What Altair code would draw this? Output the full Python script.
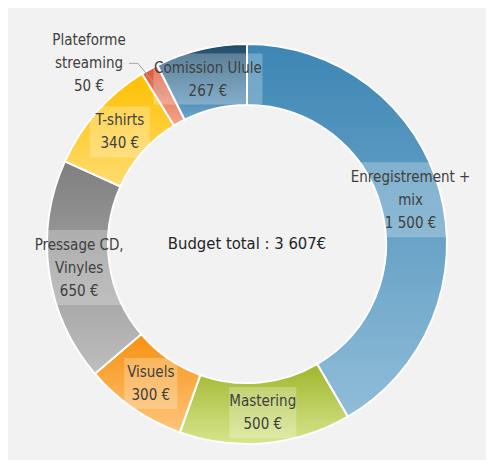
import altair as alt
import pandas as pd

categories = ['Enregistrement + mix', 'Mastering', 'Visuels', 'Pressage CD, Vinyles',
              'T-shirts', 'Plateforme streaming', 'Comission Ulule']
amounts = [1500, 500, 300, 650, 340, 50, 267]
label_lines = [
    ['Enregistrement +', 'mix', '1 500 €'],
    ['Mastering', '500 €'],
    ['Visuels', '300 €'],
    ['Pressage CD,', 'Vinyles', '650 €'],
    ['T-shirts', '340 €'],
    ['Plateforme', 'streaming', '50 €'],
    ['Comission Ulule', '267 €'],
]
top_colors = ['#3d86b4', '#9fb62c', '#f6900f', '#7f7f7f', '#fec000', '#de5232', '#1e4a68']
bottom_colors = ['#90bdd8', '#d8e58e', '#fec67c', '#bebebe', '#ffdc72', '#f3a88f', '#6aa6cf']

total = sum(amounts)
center_text = 'Budget total : ' + f'{total:,}'.replace(',', ' ') + '€'

W, H = 478, 432
R_IN, R_OUT = 139, 200
R_MID = (R_IN + R_OUT) / 2
LINE_H = 23
BG = '#f2f2f2'
FONT = 'Liberation Sans Narrow, DejaVu Sans Condensed, Arial Narrow, sans-serif'

df = pd.DataFrame({
    'cat': categories,
    'value': amounts,
    'order': list(range(len(categories))),
    'label': ['\n'.join(l) for l in label_lines],
    'nlines': [len(l) for l in label_lines],
    'nchars': [max(len(s) for s in l) for l in label_lines],
})

base = alt.Chart(df).transform_window(
    cum='sum(value)', sort=[alt.SortField('order')], frame=[None, 0]
).transform_calculate(
    start='datum.cum - datum.value',
    mid=f'(datum.cum - datum.value / 2) / {total} * 2 * PI',
    outside=f'datum.value / {total} < 0.03',
).transform_calculate(
    la='datum.outside ? datum.mid - 0.21 : datum.mid',
    lr=f'datum.outside ? 240 : {R_MID}',
    mx=f'{R_MID} * sin(datum.mid)',
    my=f'{R_MID} * cos(datum.mid)',
    bw='datum.nchars * 7 + 4',
    bh='datum.nlines * 24 + 3',
).transform_calculate(
    lx='datum.lr * sin(datum.la)',
    ly='datum.lr * cos(datum.la)',
).transform_calculate(
    ty=f'datum.ly + (datum.nlines - 1) * {LINE_H / 2}',
    bx1='datum.lx - datum.bw / 2',
    bx2='datum.lx + datum.bw / 2',
    by1='datum.ly - datum.bh / 2',
    by2='datum.ly + datum.bh / 2',
    ex='datum.lx + datum.bw / 2 + 3',
    ex2='datum.lx + datum.bw / 2 + 12',
)

xs = alt.Scale(domain=[-W / 2, W / 2], zero=False, nice=False)
ys = alt.Scale(domain=[-H / 2, H / 2], zero=False, nice=False)
ts = alt.Scale(domain=[0, total])

arcs = []
for cat, c0, c1 in zip(categories, top_colors, bottom_colors):
    grad = alt.LinearGradient(
        gradient='linear', x1=0, y1=0, x2=0, y2=1,
        stops=[alt.GradientStop(offset=0, color=c0), alt.GradientStop(offset=1, color=c1)],
    )
    arc = base.transform_filter(alt.datum.cat == cat).mark_arc(
        innerRadius=R_IN, outerRadius=R_OUT, color=grad, stroke='white', strokeWidth=2
    ).encode(
        theta=alt.Theta('start:Q', scale=ts),
        theta2='cum:Q',
    )
    arcs.append(arc)

# translucent label boxes, only visible on the ring itself
boxes = base.transform_filter('!datum.outside').mark_rect(color='white', opacity=0.25).encode(
    x=alt.X('bx1:Q', scale=xs, axis=None),
    x2='bx2:Q',
    y=alt.Y('by1:Q', scale=ys, axis=None),
    y2='by2:Q',
)

ring = pd.DataFrame({'a': [0], 'b': [total]})
mask_out = alt.Chart(ring).mark_arc(innerRadius=R_OUT + 1, outerRadius=360, color=BG).encode(
    theta=alt.Theta('a:Q', scale=ts), theta2='b:Q'
)
mask_in = alt.Chart(ring).mark_arc(innerRadius=0, outerRadius=R_IN - 1, color=BG).encode(
    theta=alt.Theta('a:Q', scale=ts), theta2='b:Q'
)

leader1 = base.transform_filter('datum.outside').mark_rule(color='#a6a6a6', strokeWidth=1).encode(
    x=alt.X('ex:Q', scale=xs, axis=None),
    x2='ex2:Q',
    y=alt.Y('ly:Q', scale=ys, axis=None),
    y2='ly:Q',
)
leader2 = base.transform_filter('datum.outside').mark_rule(color='#a6a6a6', strokeWidth=1).encode(
    x=alt.X('ex2:Q', scale=xs, axis=None),
    x2='mx:Q',
    y=alt.Y('ly:Q', scale=ys, axis=None),
    y2='my:Q',
)

labels = base.mark_text(
    font=FONT, fontSize=15, lineHeight=LINE_H, lineBreak='\n', color='#404040',
    align='center', baseline='middle'
).encode(
    x=alt.X('lx:Q', scale=xs, axis=None),
    y=alt.Y('ty:Q', scale=ys, axis=None),
    text='label:N',
)

center = alt.Chart(pd.DataFrame({'t': [center_text], 'c': [0]})).mark_text(
    font=FONT, fontSize=16.5, color='#262626', align='center', baseline='middle'
).encode(
    x=alt.X('c:Q', scale=xs, axis=None),
    y=alt.Y('c:Q', scale=ys, axis=None),
    text='t:N',
)

chart = alt.layer(*arcs, boxes, mask_out, mask_in, leader1, leader2, labels, center).properties(
    width=W, height=H,
    autosize='none',
    padding={'left': 0, 'top': 20, 'right': 0, 'bottom': 0},
    background=BG,
).configure_view(stroke=None)

chart.save('out.html', embed_options={'renderer': 'svg', 'actions': False})
